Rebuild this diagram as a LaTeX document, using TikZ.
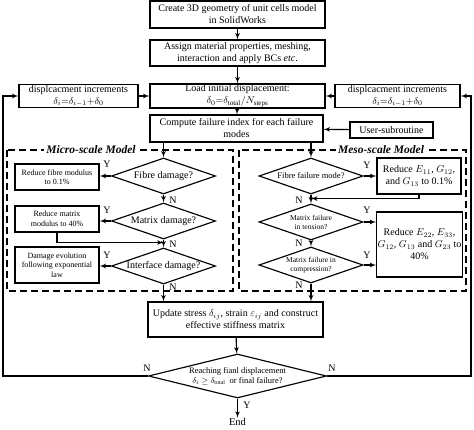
\documentclass[tikz,border=0pt]{standalone}
\usepackage{fontspec}
\setmainfont{Liberation Serif}
\usetikzlibrary{arrows,shapes.geometric}

\begin{document}
\begin{tikzpicture}[
	x = 1pt, y = -1pt,
	line width = 1.15pt,
	>=latex',
	box/.style = {
		draw,
		align = center,
		inner sep = 1pt,
		font = \fontsize{10}{12}\selectfont
	},
	smallbox/.style = {
		box,
		font = \fontsize{8}{9.5}\selectfont
	},
	test/.style = {
		draw,
		diamond,
		aspect = 2.9,
		align = center,
		inner sep = 0pt,
		minimum width = 104pt,
		minimum height = 36pt,
		font = \fontsize{10}{12}\selectfont
	},
	smalltest/.style = {
		test,
		font = \fontsize{7.5}{9}\selectfont
	},
	frame/.style = {
		draw,
		line width = 1.4pt,
		dash pattern = on 7pt off 4pt
	},
	title/.style = {
		fill = white,
		inner sep = 2pt,
		font = \bfseries\itshape\fontsize{11.5}{13}\selectfont
	},
	yn/.style = {
		inner sep = 0pt,
		font = \fontsize{10}{12}\selectfont
	}
	]
	\useasboundingbox (0,0) rectangle (474,430);
	% main column
	\node[box, minimum width = 175pt, minimum height = 27pt] (geom) at (237.5,14.5) {Create 3D geometry of unit cells model\\in SolidWorks};
	\node[box, minimum width = 175pt, minimum height = 26pt] (assign) at (237.5,53) {Assign material properties, meshing,\\interaction and apply BCs \textit{etc}.};
	\node[box, minimum width = 175pt, minimum height = 24pt] (load) at (237.5,96) {Load initial displacement:\\$\delta_0{=}\delta_{\mathrm{total}}/N_{\mathrm{steps}}$};
	\node[box, minimum width = 119pt, minimum height = 22pt] (incL) at (78.5,96) {displcacment increments\\$\delta_i{=}\delta_{i-1}{+}\delta_0$};
	\node[box, minimum width = 125pt, minimum height = 22pt] (incR) at (397.5,96) {displcacment increments\\$\delta_i{=}\delta_{i-1}{+}\delta_0$};
	\node[box, minimum width = 173pt, minimum height = 27pt] (comp) at (236.5,128.5) {Compute failure index for each failure\\modes};
	\node[box, minimum width = 83pt, minimum height = 16pt] (usub) at (391.5,130) {User-subroutine};

	% micro-scale and meso-scale frames
	\draw[frame] (7,150) rectangle (233,291);
	\draw[frame] (239,150) rectangle (466,291);
	\node[title] (microT) at (91,150) {Micro-scale Model};
	\node[title] (mesoT) at (381,150) {Meso-scale Model};

	\node[test] (fibD) at (163.5,176) {Fibre damage?};
	\node[test] (matD) at (163.5,221) {Matrix damage?};
	\node[test] (intD) at (163.5,266) {Interface damage?};
	\node[smallbox, minimum width = 84pt, minimum height = 26pt] (redFib) at (57,177) {Reduce fibre modulus\\to 0.1\%};
	\node[smallbox, minimum width = 84pt, minimum height = 26pt] (redMat) at (57,219) {Reduce matrix\\modulus to 40\%};
	\node[smallbox, minimum width = 84pt, minimum height = 36pt] (dmgEvo) at (57,265) {Damage evolution\\following exponential\\law};

	\node[smalltest, font = \fontsize{8.5}{10}\selectfont] (fibF) at (311,176) {Fibre failure mode?};
	\node[smalltest] (tenF) at (311,222) {Matrix failure\\in tension?};
	\node[smalltest] (comF) at (311,265) {Matrix failure in\\compression?};
	\node[box, minimum width = 84pt, minimum height = 36pt] (redE11) at (419,176) {Reduce $E_{11}$, $G_{12}$,\\and $G_{13}$ to 0.1\%};
	\node[box, minimum width = 85pt, minimum height = 65pt] (redE22) at (419.5,244.5) {Reduce $E_{22}$, $E_{33}$,\\$G_{12}$, $G_{13}$ and $G_{23}$ to\\40\%};

	\node[box, minimum width = 175pt, minimum height = 35pt] (upd) at (235.5,319.5) {Update stress $\delta_{ij}$, strain $\varepsilon_{ij}$ and construct\\effective stiffness matrix};
	\node[test, aspect = 4, minimum width = 178pt, minimum height = 44pt, font = \fontsize{8.5}{10.5}\selectfont] (final) at (237.5,376) {Reaching fianl displacement\\$\delta_i \geq \delta_{\mathrm{total}}$~ or final failure?};
	\node[yn, font = \fontsize{10.5}{12}\selectfont] (endN) at (237.5,422) {End};

	\coordinate (joinM) at ([yshift=-3pt]matD.south);
	\coordinate (joinF) at ([yshift=-4pt]fibF.south);
	\coordinate (cornL) at (3,96);
	\coordinate (cornR) at (471,96);

	% connectors
	\draw[->] (geom) -- (assign);
	\draw[->] (assign) -- (load);
	\draw[->] (load) -- (comp);
	\draw[->] (incL) -- (load);
	\draw[->] (incR) -- (load);
	\draw[->] (usub) -- (comp);
	\draw[->] (comp.south -| fibD.north) -- (fibD);
	\draw[->] (comp.south -| fibF.north) -- (fibF);
	\draw[->] (fibD) -- (matD);
	\draw[->] (matD) -- (intD);
	\draw[->] (fibD.west) -- (fibD.west -| redFib.east);
	\draw[->] (matD.west) -- (matD.west -| redMat.east);
	\draw[->] (intD.west) -- (intD.west -| dmgEvo.east);
	\draw[->] (redMat.south) |- (joinM);
	\draw[->] (fibF) -- (tenF);
	\draw[->] (tenF) -- (comF);
	\draw[->] (fibF.east) -- (fibF.east -| redE11.west);
	\draw[->] (tenF.east) -- (tenF.east -| redE22.west);
	\draw[->] (comF.east) -- (comF.east -| redE22.west);
	\draw[->] (redE11.south) |- (joinF);
	\draw[->] (intD) -- (intD.south |- upd.north);
	\draw[->] (comF) -- (comF.south |- upd.north);
	\draw[->] (upd) -- (final);
	\draw[->] (final) -- (endN);
	\draw[->] (final.west) -| (cornL) -- (incL);
	\draw[->] (final.east) -| (cornR) -- (incR);

	% Y and N labels
	\node[yn] at (107,164) {Y};
	\node[yn] at (107,210) {Y};
	\node[yn] at (107,255) {Y};
	\node[yn] at (173,200) {N};
	\node[yn] at (173,244) {N};
	\node[yn] at (173,287) {N};
	\node[yn] at (367,165) {Y};
	\node[yn] at (367,210) {Y};
	\node[yn] at (367,255) {Y};
	\node[yn] at (299,200) {N};
	\node[yn] at (299,243) {N};
	\node[yn] at (299,285) {N};
	\node[yn] at (147,368) {N};
	\node[yn] at (332,368) {N};
	\node[yn] at (247,405) {Y};
\end{tikzpicture}
\end{document}
